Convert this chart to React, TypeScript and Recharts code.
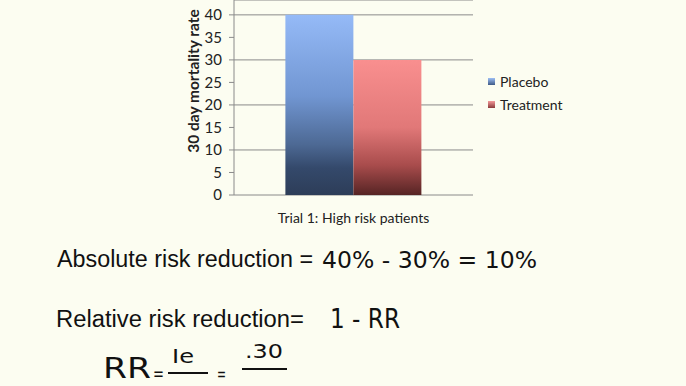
import { BarChart, Bar, XAxis, YAxis, CartesianGrid, Legend } from "recharts";

const categories = ["Trial 1: High risk patients"];
const placebo = [40];
const treatment = [30];
const yTicks = [0, 5, 10, 15, 20, 25, 30, 35, 40];

const data = categories.map((name, i) => ({
  name,
  Placebo: placebo[i],
  Treatment: treatment[i],
}));

const BG = "#fcfdf1";
const FONT = "Lato, sans-serif";
const ARIAL = "'Liberation Sans', Arial, sans-serif";
const HAND = "'DejaVu Sans', sans-serif";

const swatch: Record<string, string> = {
  Placebo: "linear-gradient(#9dbff5, #3f5a86)",
  Treatment: "linear-gradient(#f59a9a, #8a3a3a)",
};

function CategoryTick(props: any) {
  const { x, y, payload } = props;
  return (
    <text x={x} y={y + 20} textAnchor="middle" fontSize={14} fontFamily={FONT} fill="#222">
      {payload.value}
    </text>
  );
}

function LegendBox(props: any) {
  const items = props.payload || [];
  return (
    <div style={{ fontFamily: FONT, fontSize: 14, color: "#222" }}>
      {items.map((it: any) => (
        <div key={it.value} style={{ height: 23, display: "flex", alignItems: "center" }}>
          <span style={{ width: 7, height: 7, marginRight: 5, background: swatch[it.value] }} />
          <span>{it.value}</span>
        </div>
      ))}
    </div>
  );
}

export default function App() {
  return (
    <div style={{ position: "absolute", left: 0, top: 0, width: 686, height: 386, background: BG, overflow: "hidden" }}>
      <BarChart
        width={686}
        height={230}
        data={data}
        margin={{ top: 0, right: 213, bottom: 5, left: 184 }}
        barCategoryGap="21.5%"
        barGap={0}
      >
        <defs>
          <linearGradient id="gBlue" x1="0" y1="0" x2="0" y2="1">
            <stop offset="0%" stopColor="#95baf7" />
            <stop offset="45%" stopColor="#7196d2" />
            <stop offset="72%" stopColor="#4d6994" />
            <stop offset="85%" stopColor="#34496b" />
            <stop offset="100%" stopColor="#2d3d58" />
          </linearGradient>
          <linearGradient id="gRed" x1="0" y1="0" x2="0" y2="1">
            <stop offset="0%" stopColor="#f98f8f" />
            <stop offset="50%" stopColor="#e17878" />
            <stop offset="78%" stopColor="#a84c4c" />
            <stop offset="100%" stopColor="#562424" />
          </linearGradient>
        </defs>
        <CartesianGrid vertical={false} stroke="#8a8a8a" />
        <XAxis dataKey="name" height={30} axisLine={false} tickLine={false} tick={<CategoryTick />} interval={0} />
        <YAxis
          width={50}
          domain={[0, 43.3]}
          ticks={yTicks}
          allowDataOverflow
          stroke="#8a8a8a"
          tickSize={5}
          tickMargin={7}
          tick={{ fontSize: 15, fill: "#222", fontFamily: FONT }}
          label={{
            content: () => (
              <text
                transform="translate(199,81) rotate(-90)"
                textAnchor="middle"
                fontSize={15.5}
                fontWeight="bold"
                fontFamily={FONT}
                fill="#222"
              >
                30 day mortality rate
              </text>
            ),
          }}
        />
        <Legend
          layout="vertical"
          align="center"
          verticalAlign="middle"
          content={<LegendBox />}
          wrapperStyle={{ left: 488, top: 70, width: 120 }}
        />
        <Bar dataKey="Placebo" fill="url(#gBlue)" isAnimationActive={false} />
        <Bar dataKey="Treatment" fill="url(#gRed)" isAnimationActive={false} />
      </BarChart>

      <svg width={686} height={386} style={{ position: "absolute", left: 0, top: 0, pointerEvents: "none" }}>
        <text x={57} y={267} fontFamily={ARIAL} fontSize={23} fill="#111" textLength={256} lengthAdjust="spacingAndGlyphs">
          Absolute risk reduction =
        </text>
        <text x={322} y={268} fontFamily={HAND} fontSize={23} fill="#111" textLength={215} lengthAdjust="spacingAndGlyphs">
          40% - 30% = 10%
        </text>

        <text x={56} y={327} fontFamily={ARIAL} fontSize={23} fill="#111" textLength={248} lengthAdjust="spacingAndGlyphs">
          Relative risk reduction=
        </text>
        <text x={330} y={328} fontFamily={HAND} fontSize={27} fill="#111" textLength={70} lengthAdjust="spacingAndGlyphs">
          1 - RR
        </text>

        <text x={103} y={378} fontFamily={HAND} fontSize={28} fill="#111" textLength={48} lengthAdjust="spacingAndGlyphs">
          RR
        </text>
        <text x={153} y={380} fontFamily={HAND} fontSize={19} fill="#111" textLength={11} lengthAdjust="spacingAndGlyphs">=</text>
        <text x={172} y={363} fontFamily={HAND} fontSize={19} fill="#111" textLength={22} lengthAdjust="spacingAndGlyphs">
          Ie
        </text>
        <line x1={168} y1={373} x2={208} y2={373} stroke="#111" strokeWidth={2} />
        <text x={217} y={380} fontFamily={HAND} fontSize={18} fill="#111" textLength={9} lengthAdjust="spacingAndGlyphs">=</text>
        <text x={245} y={358} fontFamily={HAND} fontSize={19} fill="#111" textLength={38} lengthAdjust="spacingAndGlyphs">
          .30
        </text>
        <line x1={242} y1={369} x2={287} y2={369} stroke="#111" strokeWidth={2} />
      </svg>
    </div>
  );
}
